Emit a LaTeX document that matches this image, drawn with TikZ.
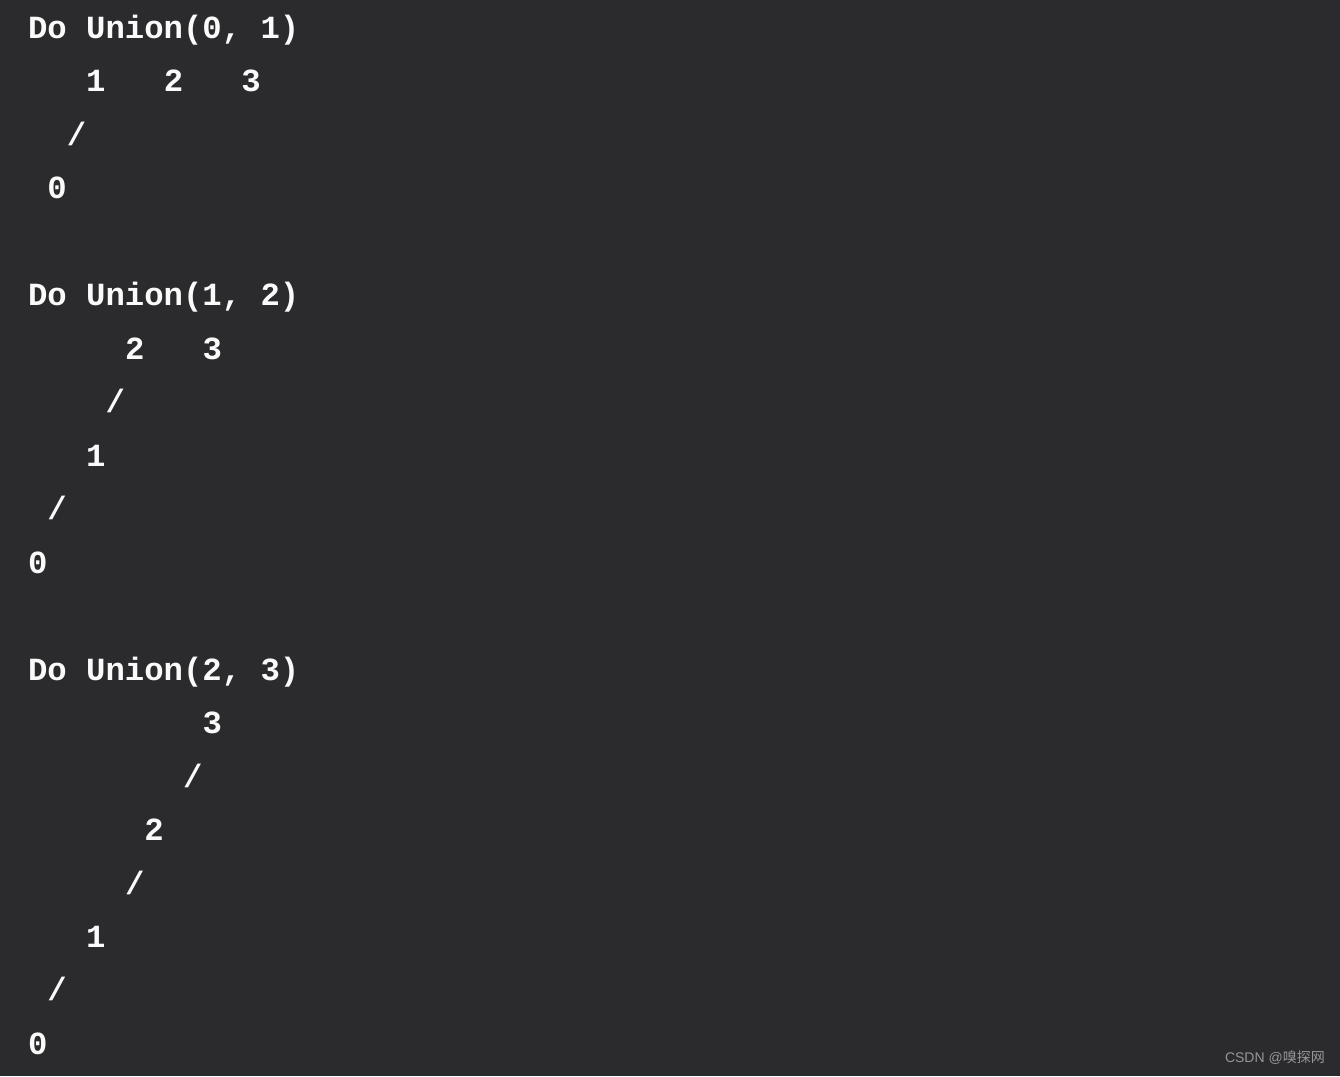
\documentclass[tikz,border=0pt]{standalone}
\usepackage{fontspec}
\setmonofont{Liberation Mono}
\newfontfamily\wmlatin{Liberation Sans}
\newfontfamily\cjk{Noto Sans CJK SC}
\definecolor{bgcol}{RGB}{43,43,45}
\definecolor{txtcol}{RGB}{250,250,250}
\definecolor{wmcol}{RGB}{150,150,152}
\newcommand\tokat[4]{\node[tok] (#1) at ({28+#2*19.4},{38.5+#3*53.47}) {#4};}
\begin{document}
\begin{tikzpicture}[x=1pt,y=-1pt,
  tok/.style={anchor=base west,inner sep=0pt,outer sep=0pt,text=txtcol,
    font=\fontsize{32.3}{36}\selectfont\ttfamily\bfseries},
  wm/.style={anchor=east,inner sep=0pt,text=wmcol,font=\fontsize{14}{16}\selectfont}]
\fill[bgcol] (0,0) rectangle (1340,1076);
\useasboundingbox (0,0) rectangle (1340,1076);
% Union(0,1)
\tokat{h1}{0}{0}{Do Union(0, 1)}
\tokat{a1}{3}{1}{1}
\tokat{a2}{7}{1}{2}
\tokat{a3}{11}{1}{3}
\tokat{as1}{2}{2}{/}
\tokat{a0}{1}{3}{0}
% Union(1,2)
\tokat{h2}{0}{5}{Do Union(1, 2)}
\tokat{b2}{5}{6}{2}
\tokat{b3}{9}{6}{3}
\tokat{bs2}{4}{7}{/}
\tokat{b1}{3}{8}{1}
\tokat{bs1}{1}{9}{/}
\tokat{b0}{0}{10}{0}
% Union(2,3)
\tokat{h3}{0}{12}{Do Union(2, 3)}
\tokat{c3}{9}{13}{3}
\tokat{cs3}{8}{14}{/}
\tokat{c2}{6}{15}{2}
\tokat{cs2}{5}{16}{/}
\tokat{c1}{3}{17}{1}
\tokat{cs1}{1}{18}{/}
\tokat{c0}{0}{19}{0}
% watermark
\node[wm] (wmark) at (1325,1058) {\wmlatin CSDN @\cjk 嗅探网};
\end{tikzpicture}
\end{document}
